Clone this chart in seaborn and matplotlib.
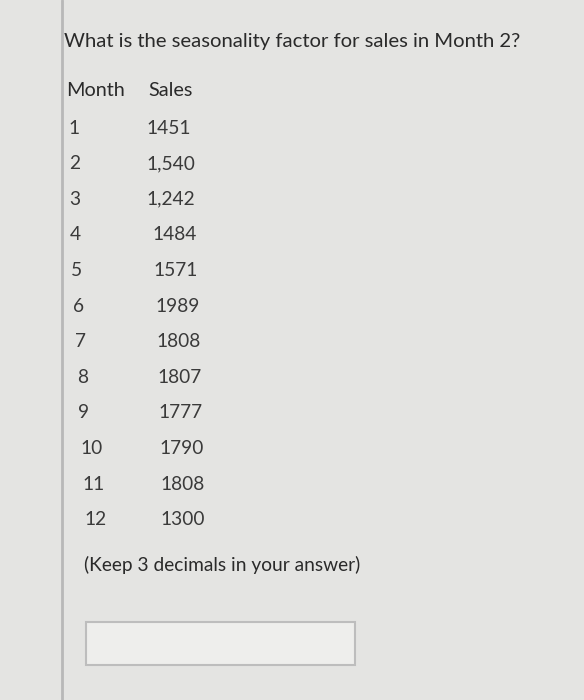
import matplotlib
matplotlib.use("Agg")
import matplotlib.pyplot as plt
import seaborn as sns
from matplotlib.patches import Rectangle

sns.set_style("white")
plt.rcParams['font.family'] = ['Lato', 'DejaVu Sans']

title = "What is the seasonality factor for sales in Month 2?"
headers = ["Month", "Sales"]
months = ["1", "2", "3", "4", "5", "6", "7", "8", "9", "10", "11", "12"]
sales = ["1451", "1,540", "1,242", "1484", "1571", "1989", "1808", "1807", "1777", "1790", "1808", "1300"]
note = "(Keep 3 decimals in your answer)"

W, H = 584, 700
fig = plt.figure(figsize=(W / 100, H / 100), dpi=100)
fig.patch.set_facecolor("#e4e4e2")
ax = fig.add_axes([0, 0, 1, 1])
ax.set_xlim(0, W)
ax.set_ylim(H, 0)
ax.axis("off")
ax.set_facecolor("#e4e4e2")

ax.plot([62, 62], [0, H], color="#b8b8b8", lw=2)
ax.text(64, 42, title, fontsize=14.6, color="#2a2a2a", va="center")
ax.text(66, 90, headers[0], fontsize=14.3, color="#2a2a2a", va="center")
ax.text(148, 90, headers[1], fontsize=14.3, color="#2a2a2a", va="center")

month_x = [68, 69, 69, 70, 71, 73, 75, 77, 78, 80, 82, 84]
sales_x = [146, 146, 146, 152, 153, 155, 156, 157, 158, 159, 160, 160]
for i, (m, s) in enumerate(zip(months, sales)):
    y = 128 + i * 35.6
    ax.text(month_x[i], y, m, fontsize=13.8, color="#3a3a3a", va="center")
    ax.text(sales_x[i], y, s, fontsize=13.8, color="#3a3a3a", va="center")

ax.text(84, 565, note, fontsize=13.8, color="#2a2a2a", va="center")
ax.add_patch(Rectangle((86, 622), 269, 43, facecolor="#eeeeec", edgecolor="#bdbdbd", lw=1.5))

fig.savefig("out.png", dpi=100, facecolor=fig.get_facecolor())
